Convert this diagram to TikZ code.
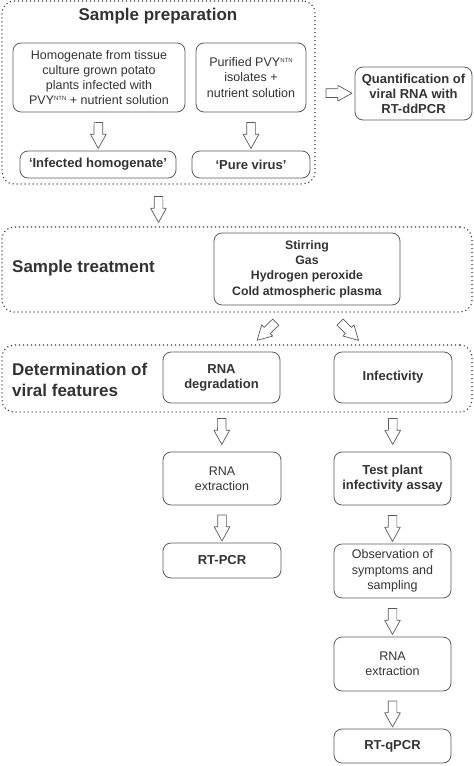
\documentclass[tikz,border=0pt]{standalone}
\usepackage{fontspec}
\setmainfont{Liberation Sans}
\usetikzlibrary{shapes.arrows,calc}
\definecolor{txt}{HTML}{333333}
\definecolor{edge}{HTML}{5A5A5A}
\newcommand{\ntn}{\raisebox{4.6pt}{\fontsize{6}{6}\selectfont NTN}}
\begin{document}
\begin{tikzpicture}[x=1pt,y=-1pt,line join=round,text=txt,
  box/.style={draw=edge,line width=0.8pt,rounded corners=8pt,align=center,inner sep=2pt,
    font=\fontsize{12.5}{15.3}\selectfont},
  boldbox/.style={box,font=\fontsize{13}{15}\selectfont\bfseries},
  group/.style={draw=txt,line width=1.1pt,dash pattern=on 1.1pt off 2.9pt,rounded corners=12pt},
  title/.style={font=\fontsize{17}{20.5}\selectfont\bfseries,inner sep=0pt},
  flow/.style={single arrow,draw=edge,line width=0.7pt,fill=white,inner sep=4pt,
    minimum height=26pt,minimum width=15pt,single arrow head extend=3.5pt,
    single arrow tip angle=58,single arrow head indent=0pt,sloped,allow upside down}]
\useasboundingbox (0,0) rectangle (474,766);
% sample preparation
\node[group,minimum width=313pt,minimum height=183pt] (prep) at (158.5,92.5) {};
\node[title] (preptitle) at (158,16) {Sample preparation};
\node[box,minimum width=172pt,minimum height=69pt] (homog) at (99,77.5)
  {Homogenate from tissue\\culture grown potato\\plants infected with\\PVY\ntn{} + nutrient solution};
\node[box,minimum width=110pt,minimum height=69pt] (purif) at (251,77.5)
  {Purified PVY\ntn\\isolates +\\nutrient solution};
\node[boldbox,minimum width=156pt,minimum height=27pt] (infhom) at (98,164.5) {`Infected homogenate'};
\node[boldbox,minimum width=118pt,minimum height=27pt] (purevir) at (251,164.5) {`Pure virus'};
\node[boldbox,minimum width=117pt,minimum height=53pt] (quant) at (413.5,93.5)
  {Quantification of\\viral RNA with\\RT-ddPCR};
% sample treatment
\node[group,minimum width=470pt,minimum height=85pt] (treat) at (237,269.5) {};
\node[title,anchor=west] (treattitle) at (12,268) {Sample treatment};
\node[boldbox,minimum width=186pt,minimum height=72pt,font=\fontsize{12.3}{15.3}\selectfont\bfseries] (methods) at (307,269)
  {Stirring\\Gas\\Hydrogen peroxide\\Cold atmospheric plasma};
% viral features
\node[group,minimum width=470pt,minimum height=67pt] (feat) at (237,378.5) {};
\node[title,anchor=west,align=left] (feattitle) at (12,380) {Determination of\\viral features};
\node[boldbox,minimum width=117pt,minimum height=51pt] (degr) at (221.5,377.5) {RNA\\degradation};
\node[boldbox,minimum width=118pt,minimum height=51pt] (infect) at (393,377.5) {Infectivity};
% left branch
\node[box,minimum width=118pt,minimum height=53pt] (extrA) at (222,478.5) {RNA\\extraction};
\node[boldbox,minimum width=118pt,minimum height=35pt] (rtpcr) at (222,560.5) {RT-PCR};
% right branch
\node[boldbox,minimum width=117pt,minimum height=53pt] (assay) at (392.5,478.5) {Test plant\\infectivity assay};
\node[box,minimum width=117pt,minimum height=54pt] (observ) at (392.5,571) {Observation of\\symptoms and\\sampling};
\node[box,minimum width=117pt,minimum height=54pt] (extrB) at (392.5,664) {RNA\\extraction};
\node[boldbox,minimum width=117pt,minimum height=34pt] (rtqpcr) at (392.5,746) {RT-qPCR};
% arrows
\foreach \a/\b in {homog/infhom,purif/purevir,prep/quant,degr/extrA,extrA/rtpcr,
  infect/assay,assay/observ,observ/extrB,extrB/rtqpcr}{\path (\a) -- node[flow]{} (\b);}
\path (prep.south) -- node[flow]{} (prep.south |- treat.north);
\path ($(methods.south)+(-14,0)$) -- node[flow]{} ($(degr.north)+(24,0)$);
\path ($(methods.south)+(16,0)$) -- node[flow]{} ($(infect.north)+(-23,0)$);
\end{tikzpicture}
\end{document}
